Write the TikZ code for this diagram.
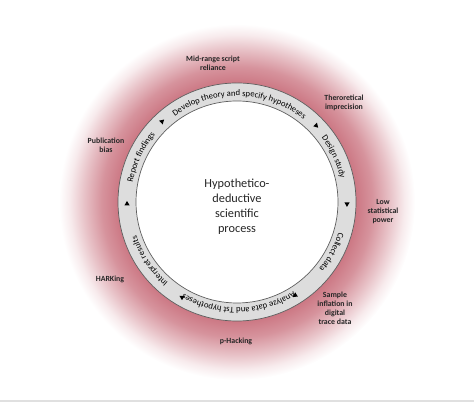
\documentclass[tikz,border=0pt]{standalone}
\usepackage{fontspec}
\setmainfont{Carlito}
\usetikzlibrary{decorations.text,shapes.geometric}
\definecolor{glowred}{RGB}{204,120,132}
\definecolor{ringgray}{RGB}{221,221,221}
\definecolor{ringline}{RGB}{95,95,95}
\pgfdeclareradialshading{glow}{\pgfpointorigin}{color(0bp)=(glowred); color(16.7bp)=(glowred); color(19bp)=(glowred!80!white); color(21.5bp)=(glowred!45!white); color(23.5bp)=(glowred!15!white); color(25bp)=(white); color(50bp)=(white)}
\newcommand\ringfont{\fontsize{7.4}{8}\selectfont}

\begin{document}
\begin{tikzpicture}[x=0.03cm,y=0.03cm,
        risk/.style={font=\fontsize{6.7}{7.7}\selectfont\bfseries,align=center,text=black!85,inner sep=0pt},
        tri/.style={isosceles triangle,isosceles triangle apex angle=60,fill=black,inner sep=0pt,minimum height=3.8pt},
        ringtext/.style={decorate,decoration={text along path,text align=center,text={|\ringfont|#1}}},
        ]
        \useasboundingbox (0,0) rectangle (474,402);
        \coordinate (c) at (237,200);
        \shade[shading=glow] (c) circle (178);
        \filldraw[fill=ringgray,draw=ringline,line width=0.6pt] (c) circle (119);
        \filldraw[fill=white,draw=ringline,line width=0.6pt] (c) circle (101);
        \fill[black!12] (0,0) rectangle (474,2);
        % stages on the ring
        \path[ringtext={Develop theory and specify hypotheses}] ([shift={(131:106)}]c) arc[start angle=131,end angle=46,radius=106];
        \path[ringtext={Design study}] ([shift={(44:106)}]c) arc[start angle=44,end angle=6,radius=106];
        \path[ringtext={Collect data}] ([shift={(-4:106)}]c) arc[start angle=-4,end angle=-52,radius=106];
        \path[ringtext={Analyze data and Tst hypotheses}] ([shift={(-54:106)}]c) arc[start angle=-54,end angle=-124,radius=106];
        \path[ringtext={Interpret results}] ([shift={(-124:106)}]c) arc[start angle=-124,end angle=-168,radius=106];
        \path[ringtext={Report findings}] ([shift={(175:106)}]c) arc[start angle=175,end angle=135,radius=106];
        \foreach \a [count=\i] in {133,44,-1,-58,-120,181}
          \node[tri,rotate=\a-90] (arrow\i) at ([shift={(\a:110)}]c) {};
        \node[align=center,font=\fontsize{10.5}{12.75}\selectfont,text=black!85] (title) at (237,195) {Hypothetico-\\deductive\\scientific\\process};
        % threats outside the ring
        \node[risk] (midrange) at (213,339) {Mid-range script\\reliance};
        \node[risk] (imprecision) at (344,299) {Theroretical\\imprecision};
        \node[risk] (publication) at (106,257) {Publication\\bias};
        \node[risk] (power) at (383,190) {Low\\statistical\\power};
        \node[risk] (harking) at (110,123) {HARKing};
        \node[risk] (sample) at (335,94) {Sample\\inflation in\\digital\\trace data};
        \node[risk] (phacking) at (236,61) {p-Hacking};
      \end{tikzpicture}
\end{document}
